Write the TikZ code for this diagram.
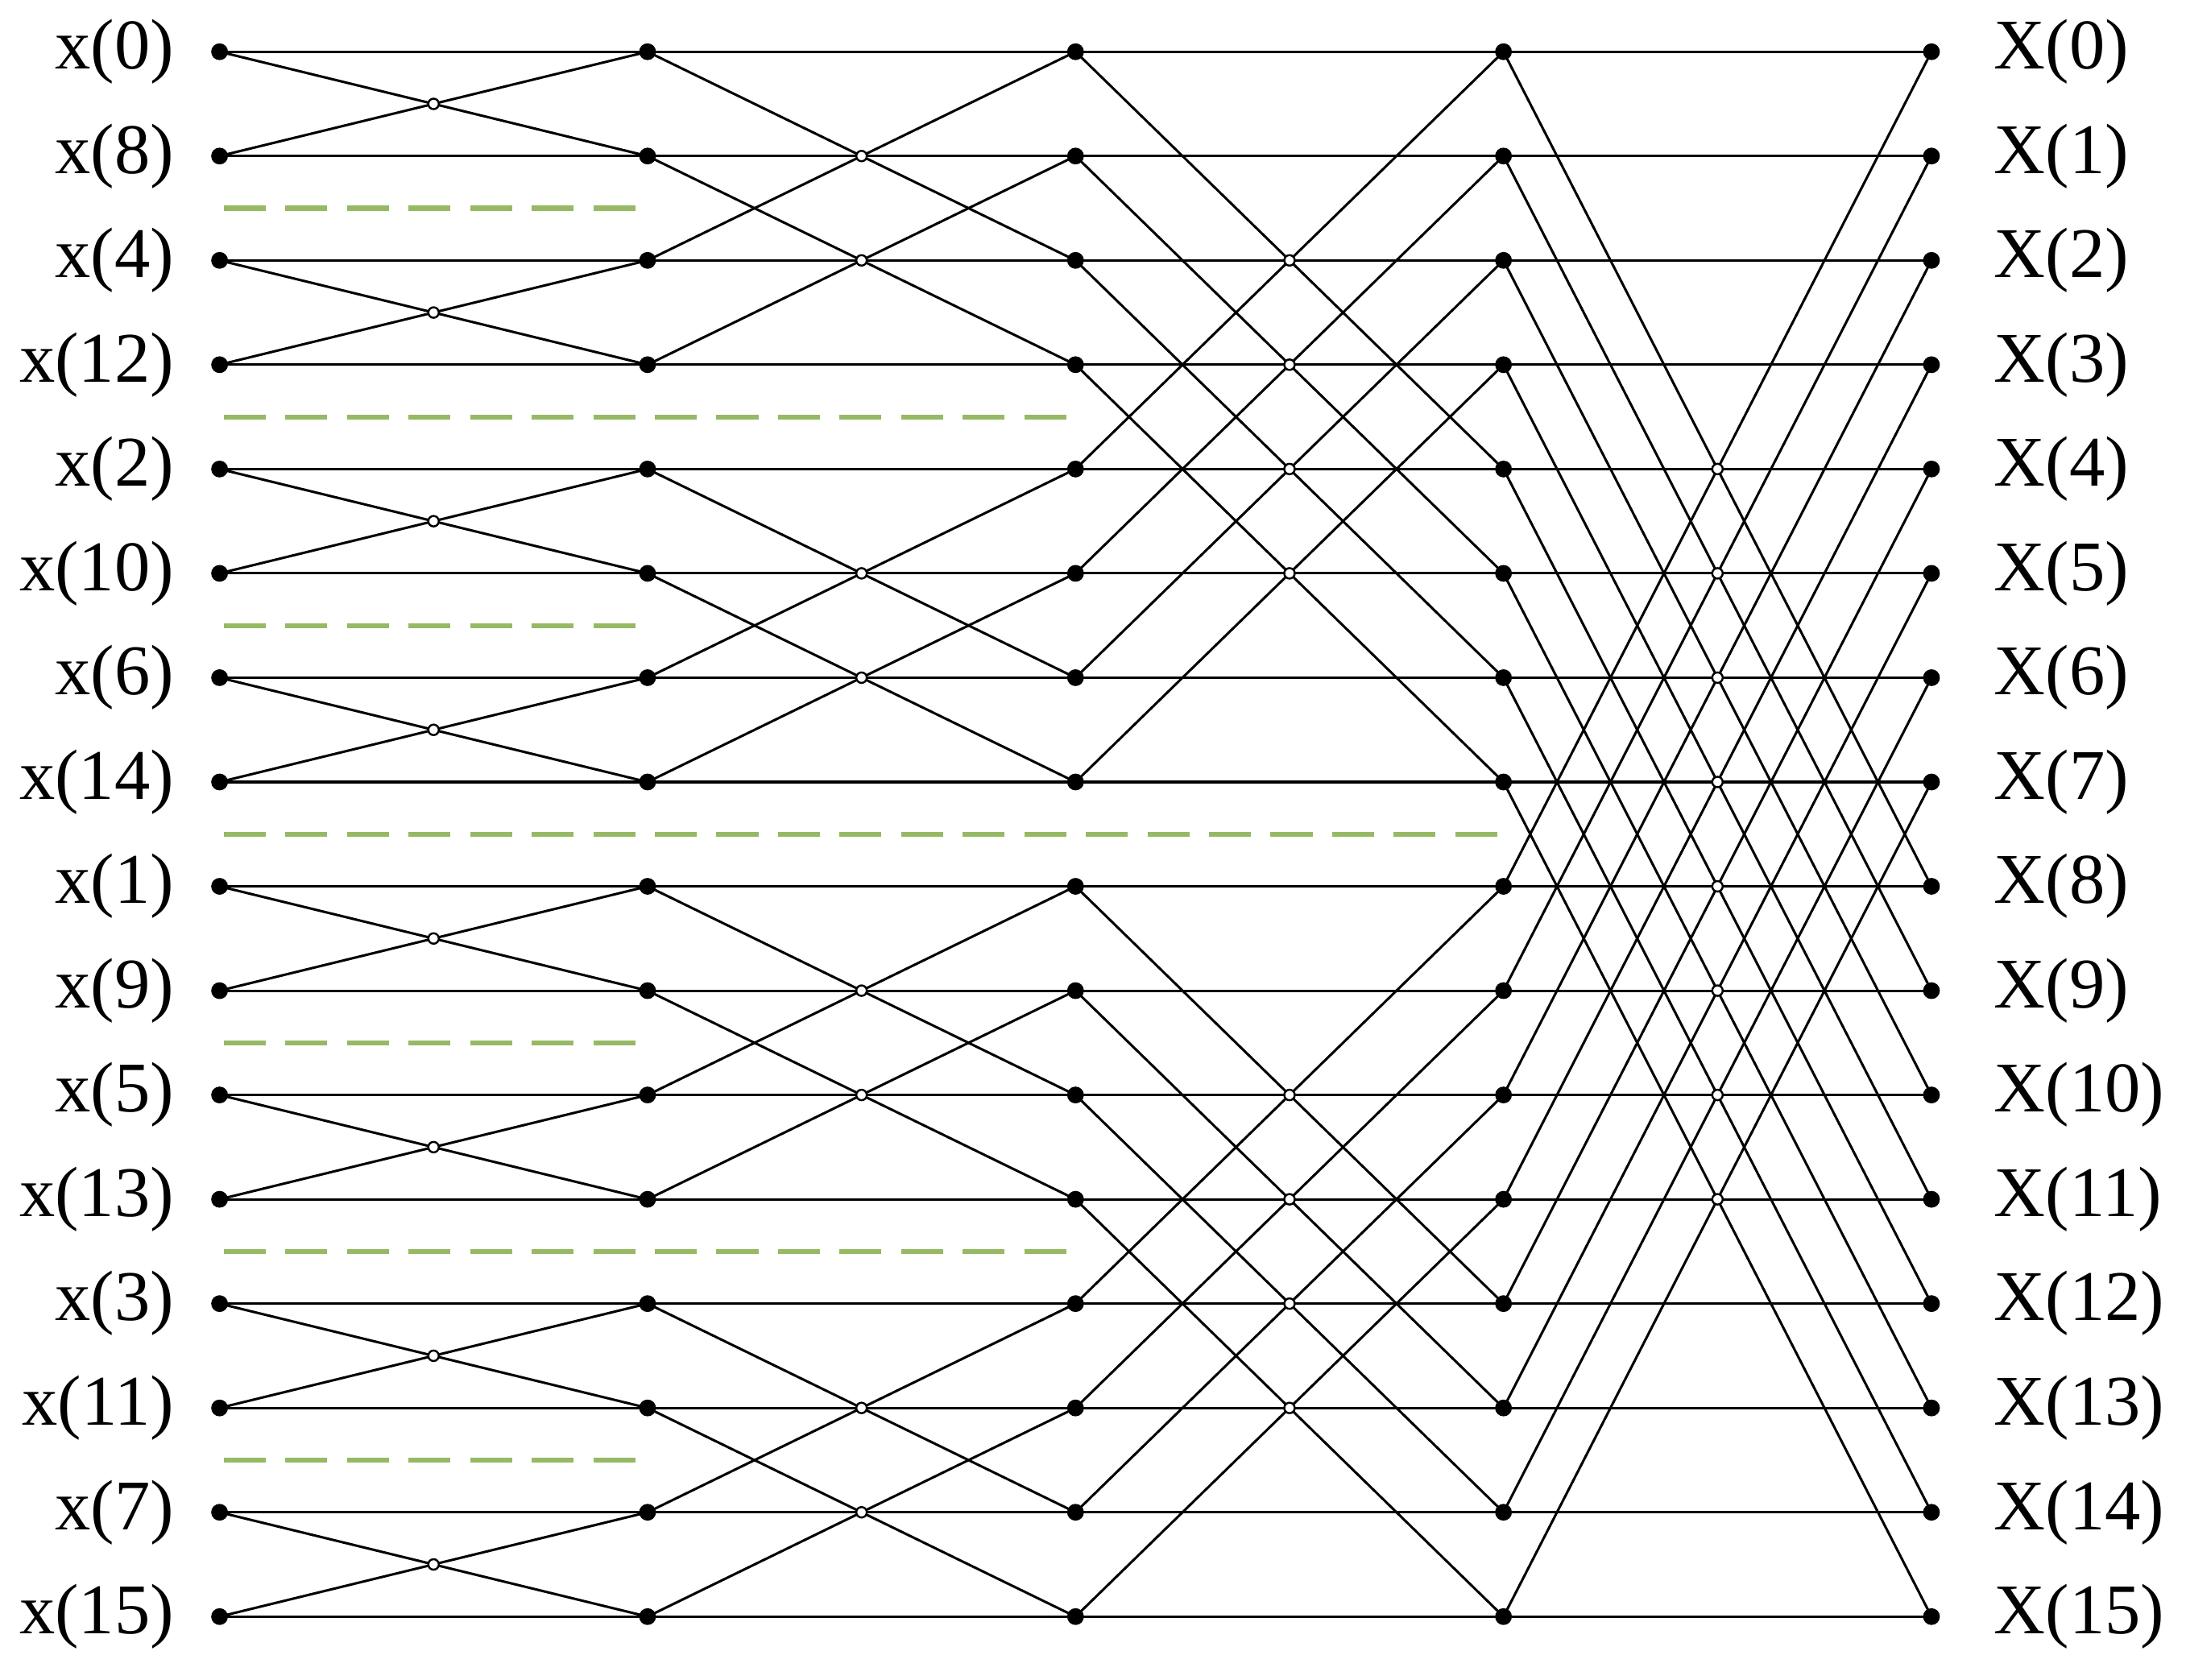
\documentclass[tikz,border=0pt]{standalone}
\usepackage{fontspec}
\setmainfont{Liberation Serif}
\usetikzlibrary{calc}
\begin{document}
\begin{tikzpicture}[x=0.01cm,y=-0.01cm,
  dot/.style={circle,fill=black,inner sep=0pt,minimum size=0.12cm},
  xo/.style={circle,draw=black,fill=white,line width=0.4pt,inner sep=0pt,minimum size=0.075cm},
  wire/.style={line width=0.5pt},
  sep/.style={draw={rgb,255:red,150;green,185;blue,100},line width=1pt,dash pattern=on 0.3cm off 0.14cm},
  lab/.style={font=\fontsize{14.5}{16}\selectfont,inner sep=0pt}]
\useasboundingbox (0,0) rectangle (1563,1201);
% nodes
\foreach \s in {0,...,4}{
  \foreach \r in {0,...,15}{
    \coordinate (n\s-\r) at ({157+306*\s},{37+74.6*\r});
  }
}
% wires
\foreach \s/\d in {1/1,2/2,3/4,4/8}{
  \pgfmathtruncatemacro\p{\s-1}
  \foreach \r in {0,...,15}{
    \pgfmathtruncatemacro\b{mod(floor(\r/\d),2)}
    \pgfmathtruncatemacro\o{\b==0 ? \r+\d : \r-\d}
    \draw[wire] (n\p-\r) -- (n\s-\r);
    \draw[wire] (n\p-\r) -- (n\s-\o);
  }
  \foreach \r in {0,...,15}{
    \pgfmathtruncatemacro\b{mod(floor(\r/\d),2)}
    \ifnum\b=0
      \pgfmathtruncatemacro\o{\r+\d}
      \node[xo] (c\s-\r) at ($(n\p-\r)!0.5!(n\s-\o)$) {};
    \fi
  }
}
% dots
\foreach \s in {0,...,4}{
  \foreach \r in {0,...,15}{
    \node[dot] (d\s-\r) at (n\s-\r) {};
  }
}
% separators
\foreach \r/\e in {1/455,5/455,9/455,13/455,3/765,11/765,7/1075}{
  \draw[sep] (160,{37+74.6*(\r+0.5)}) -- (\e,{37+74.6*(\r+0.5)});
}
% labels
\foreach \v [count=\i from 0] in {0,8,4,12,2,10,6,14,1,9,5,13,3,11,7,15}{
  \node[lab,anchor=east] (L\i) at (125,{37+74.6*\i}) {x(\v)};
}
\foreach \i in {0,...,15}{
  \node[lab,anchor=west] (R\i) at (1425,{37+74.6*\i}) {X(\i)};
}
\end{tikzpicture}
\end{document}
